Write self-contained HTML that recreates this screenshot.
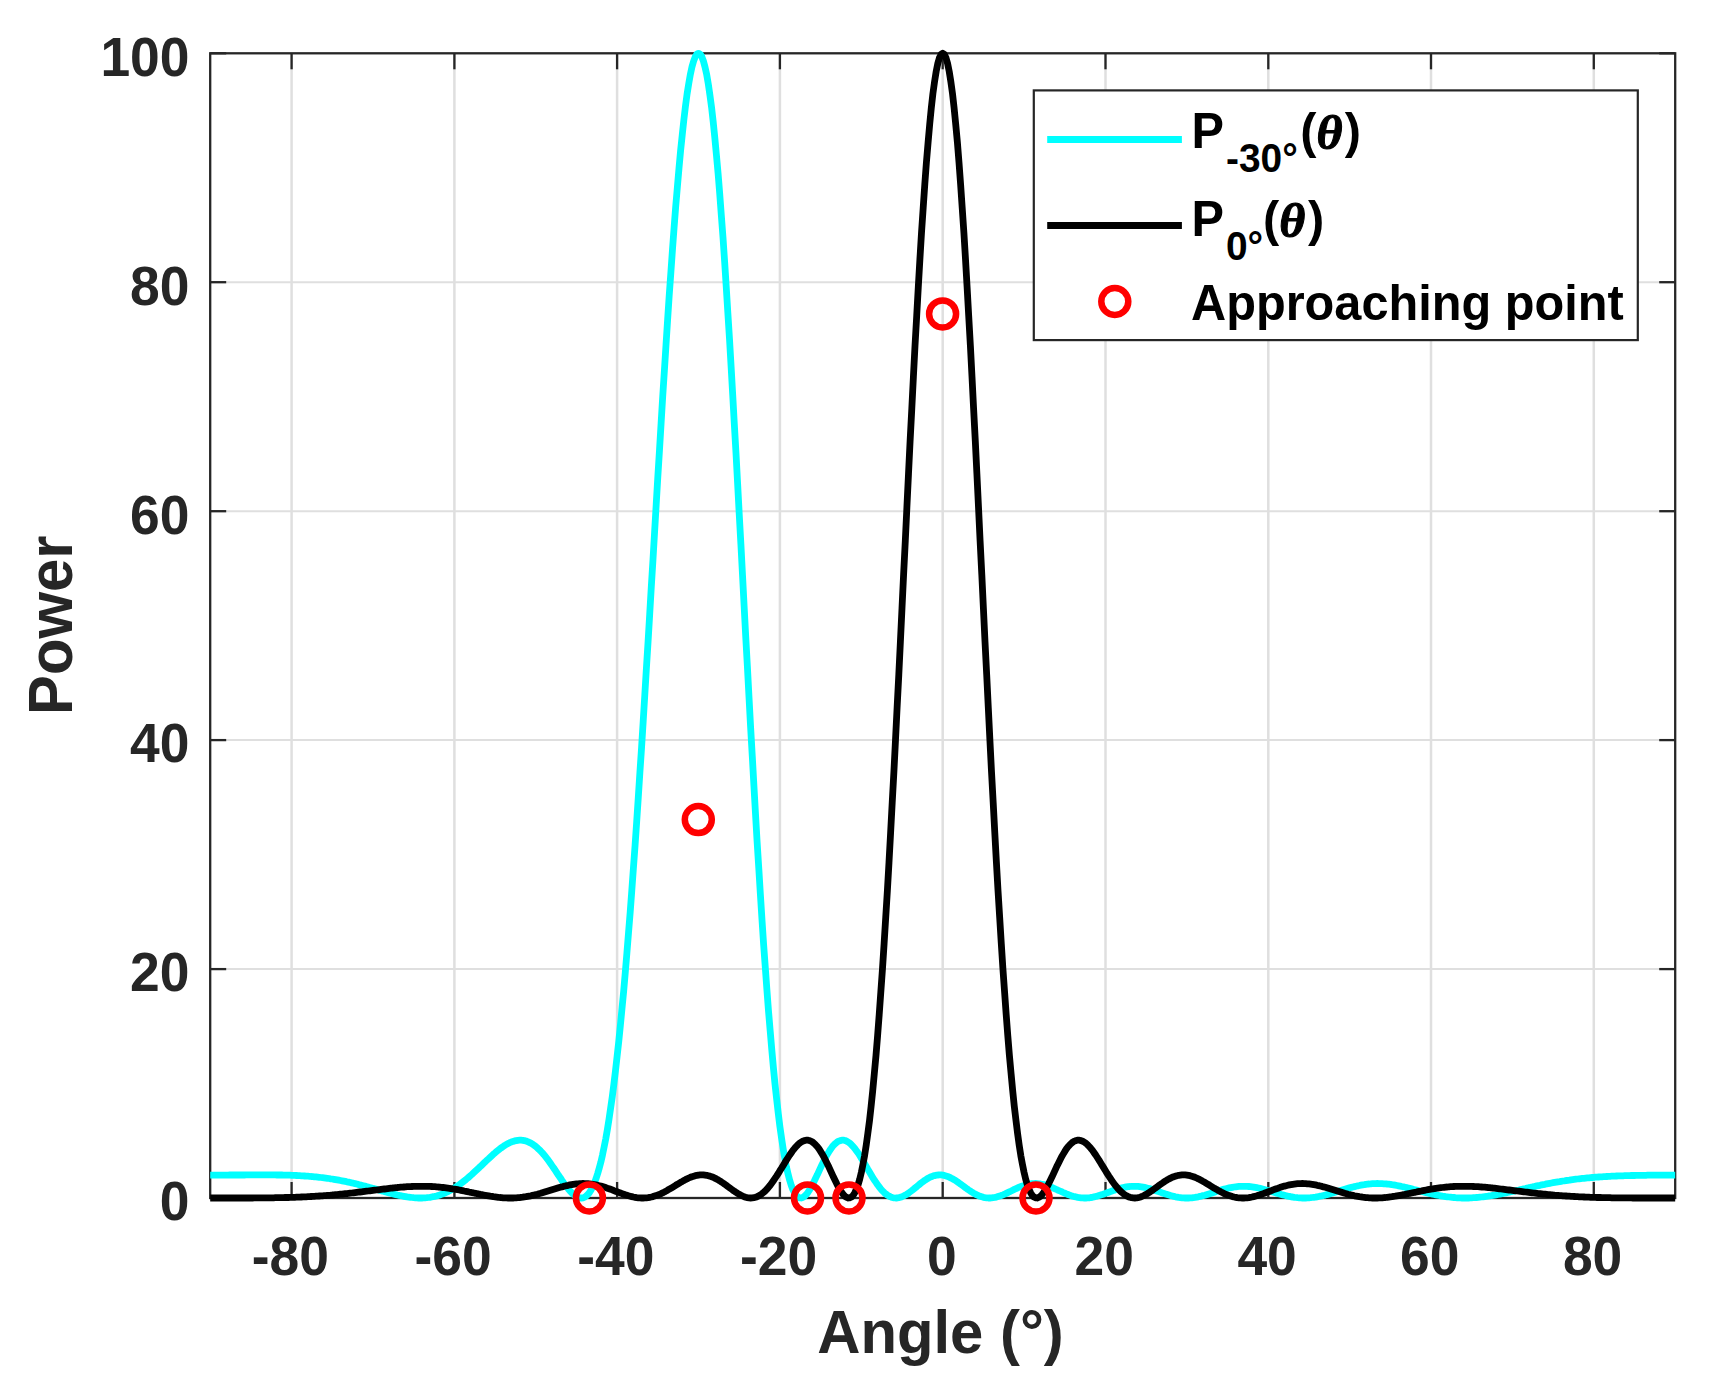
<!DOCTYPE html>
<html><head><meta charset="utf-8"><title>Beam pattern</title>
<style>
html,body{margin:0;padding:0;background:#fff;}
svg{display:block}
text{font-family:"Liberation Sans",sans-serif;font-weight:bold;}
.tk{font-size:53.4px;fill:#262626;}
.lb{font-size:59.8px;fill:#262626;}
.lg{font-size:48.7px;fill:#000;}
.sub{font-size:38.9px;}
.th{font-family:"Liberation Serif",serif;font-style:italic;font-weight:bold;}
</style></head><body>
<svg width="1733" height="1397" viewBox="0 0 1733 1397">
<rect width="1733" height="1397" fill="#fff"/>
<defs><clipPath id="cp"><rect x="209.7" y="40" width="1466.6" height="1168.0"/></clipPath></defs>

<g stroke="#dfdfdf" stroke-width="2" fill="none">
<line x1="291.6" y1="53.3" x2="291.6" y2="1198.0" stroke-width="2.5"/>
<line x1="454.4" y1="53.3" x2="454.4" y2="1198.0" stroke-width="2.5"/>
<line x1="617.1" y1="53.3" x2="617.1" y2="1198.0" stroke-width="2.5"/>
<line x1="779.9" y1="53.3" x2="779.9" y2="1198.0" stroke-width="2.5"/>
<line x1="942.7" y1="53.3" x2="942.7" y2="1198.0" stroke-width="2.5"/>
<line x1="1105.5" y1="53.3" x2="1105.5" y2="1198.0" stroke-width="2.5"/>
<line x1="1268.3" y1="53.3" x2="1268.3" y2="1198.0" stroke-width="2.5"/>
<line x1="1431.0" y1="53.3" x2="1431.0" y2="1198.0" stroke-width="2.5"/>
<line x1="1593.8" y1="53.3" x2="1593.8" y2="1198.0" stroke-width="2.5"/>
<line x1="210.2" y1="969.1" x2="1675.2" y2="969.1"/>
<line x1="210.2" y1="740.1" x2="1675.2" y2="740.1"/>
<line x1="210.2" y1="511.2" x2="1675.2" y2="511.2"/>
<line x1="210.2" y1="282.2" x2="1675.2" y2="282.2"/>
</g>
<g stroke="#262626" stroke-width="2.3" fill="none">
<rect x="210.2" y="53.3" width="1465.0" height="1144.7"/>
<line x1="291.6" y1="1198.0" x2="291.6" y2="1182.0"/><line x1="291.6" y1="53.3" x2="291.6" y2="69.3"/>
<line x1="454.4" y1="1198.0" x2="454.4" y2="1182.0"/><line x1="454.4" y1="53.3" x2="454.4" y2="69.3"/>
<line x1="617.1" y1="1198.0" x2="617.1" y2="1182.0"/><line x1="617.1" y1="53.3" x2="617.1" y2="69.3"/>
<line x1="779.9" y1="1198.0" x2="779.9" y2="1182.0"/><line x1="779.9" y1="53.3" x2="779.9" y2="69.3"/>
<line x1="942.7" y1="1198.0" x2="942.7" y2="1182.0"/><line x1="942.7" y1="53.3" x2="942.7" y2="69.3"/>
<line x1="1105.5" y1="1198.0" x2="1105.5" y2="1182.0"/><line x1="1105.5" y1="53.3" x2="1105.5" y2="69.3"/>
<line x1="1268.3" y1="1198.0" x2="1268.3" y2="1182.0"/><line x1="1268.3" y1="53.3" x2="1268.3" y2="69.3"/>
<line x1="1431.0" y1="1198.0" x2="1431.0" y2="1182.0"/><line x1="1431.0" y1="53.3" x2="1431.0" y2="69.3"/>
<line x1="1593.8" y1="1198.0" x2="1593.8" y2="1182.0"/><line x1="1593.8" y1="53.3" x2="1593.8" y2="69.3"/>
<line x1="210.2" y1="1198.0" x2="226.2" y2="1198.0"/><line x1="1675.2" y1="1198.0" x2="1659.2" y2="1198.0"/>
<line x1="210.2" y1="969.1" x2="226.2" y2="969.1"/><line x1="1675.2" y1="969.1" x2="1659.2" y2="969.1"/>
<line x1="210.2" y1="740.1" x2="226.2" y2="740.1"/><line x1="1675.2" y1="740.1" x2="1659.2" y2="740.1"/>
<line x1="210.2" y1="511.2" x2="226.2" y2="511.2"/><line x1="1675.2" y1="511.2" x2="1659.2" y2="511.2"/>
<line x1="210.2" y1="282.2" x2="226.2" y2="282.2"/><line x1="1675.2" y1="282.2" x2="1659.2" y2="282.2"/>
<line x1="210.2" y1="53.3" x2="226.2" y2="53.3"/><line x1="1675.2" y1="53.3" x2="1659.2" y2="53.3"/>
</g>
<g clip-path="url(#cp)" fill="none" stroke-width="6.8" stroke-linejoin="round">
<path stroke="#00ffff" d="M210.2,1175.1 L211.8,1175.1 L213.5,1175.1 L215.1,1175.1 L216.7,1175.1 L218.3,1175.1 L220.0,1175.1 L221.6,1175.1 L223.2,1175.1 L224.9,1175.1 L226.5,1175.1 L228.1,1175.1 L229.7,1175.0 L231.4,1175.0 L233.0,1175.0 L234.6,1175.0 L236.2,1175.0 L237.9,1175.0 L239.5,1175.0 L241.1,1175.0 L242.8,1175.0 L244.4,1175.0 L246.0,1174.9 L247.6,1174.9 L249.3,1174.9 L250.9,1174.9 L252.5,1174.9 L254.2,1174.9 L255.8,1174.9 L257.4,1174.9 L259.0,1174.9 L260.7,1174.9 L262.3,1174.9 L263.9,1174.9 L265.5,1174.9 L267.2,1174.9 L268.8,1174.9 L270.4,1174.9 L272.1,1174.9 L273.7,1174.9 L275.3,1174.9 L276.9,1175.0 L278.6,1175.0 L280.2,1175.0 L281.8,1175.0 L283.5,1175.1 L285.1,1175.1 L286.7,1175.1 L288.3,1175.2 L290.0,1175.2 L291.6,1175.3 L293.2,1175.4 L294.8,1175.4 L296.5,1175.5 L298.1,1175.6 L299.7,1175.7 L301.4,1175.8 L303.0,1175.9 L304.6,1176.0 L306.2,1176.1 L307.9,1176.2 L309.5,1176.3 L311.1,1176.5 L312.8,1176.6 L314.4,1176.8 L316.0,1176.9 L317.6,1177.1 L319.3,1177.3 L320.9,1177.5 L322.5,1177.7 L324.1,1177.9 L325.8,1178.1 L327.4,1178.3 L329.0,1178.5 L330.7,1178.8 L332.3,1179.0 L333.9,1179.3 L335.5,1179.6 L337.2,1179.9 L338.8,1180.2 L340.4,1180.5 L342.1,1180.8 L343.7,1181.1 L345.3,1181.4 L346.9,1181.8 L348.6,1182.1 L350.2,1182.5 L351.8,1182.9 L353.4,1183.2 L355.1,1183.6 L356.7,1184.0 L358.3,1184.4 L360.0,1184.9 L361.6,1185.3 L363.2,1185.7 L364.8,1186.1 L366.5,1186.6 L368.1,1187.0 L369.7,1187.5 L371.4,1187.9 L373.0,1188.4 L374.6,1188.8 L376.2,1189.3 L377.9,1189.8 L379.5,1190.2 L381.1,1190.7 L382.7,1191.1 L384.4,1191.6 L386.0,1192.0 L387.6,1192.5 L389.3,1192.9 L390.9,1193.3 L392.5,1193.8 L394.1,1194.2 L395.8,1194.6 L397.4,1195.0 L399.0,1195.3 L400.7,1195.7 L402.3,1196.0 L403.9,1196.3 L405.5,1196.6 L407.2,1196.9 L408.8,1197.1 L410.4,1197.3 L412.0,1197.5 L413.7,1197.7 L415.3,1197.8 L416.9,1197.9 L418.6,1198.0 L420.2,1198.0 L421.8,1198.0 L423.4,1197.9 L425.1,1197.8 L426.7,1197.7 L428.3,1197.5 L430.0,1197.3 L431.6,1197.0 L433.2,1196.7 L434.8,1196.4 L436.5,1196.0 L438.1,1195.5 L439.7,1195.0 L441.3,1194.4 L443.0,1193.8 L444.6,1193.1 L446.2,1192.4 L447.9,1191.6 L449.5,1190.8 L451.1,1189.9 L452.7,1189.0 L454.4,1188.0 L456.0,1186.9 L457.6,1185.9 L459.3,1184.7 L460.9,1183.5 L462.5,1182.3 L464.1,1181.0 L465.8,1179.7 L467.4,1178.3 L469.0,1177.0 L470.6,1175.5 L472.3,1174.1 L473.9,1172.6 L475.5,1171.1 L477.2,1169.5 L478.8,1168.0 L480.4,1166.4 L482.0,1164.9 L483.7,1163.3 L485.3,1161.8 L486.9,1160.2 L488.6,1158.7 L490.2,1157.2 L491.8,1155.7 L493.4,1154.2 L495.1,1152.8 L496.7,1151.4 L498.3,1150.1 L499.9,1148.8 L501.6,1147.6 L503.2,1146.5 L504.8,1145.4 L506.5,1144.4 L508.1,1143.5 L509.7,1142.7 L511.3,1142.0 L513.0,1141.4 L514.6,1140.9 L516.2,1140.6 L517.9,1140.3 L519.5,1140.2 L521.1,1140.2 L522.7,1140.3 L524.4,1140.6 L526.0,1141.0 L527.6,1141.6 L529.2,1142.3 L530.9,1143.1 L532.5,1144.1 L534.1,1145.2 L535.8,1146.5 L537.4,1147.9 L539.0,1149.4 L540.6,1151.0 L542.3,1152.8 L543.9,1154.7 L545.5,1156.7 L547.2,1158.8 L548.8,1161.0 L550.4,1163.3 L552.0,1165.6 L553.7,1168.0 L555.3,1170.4 L556.9,1172.9 L558.5,1175.3 L560.2,1177.7 L561.8,1180.2 L563.4,1182.5 L565.1,1184.8 L566.7,1187.0 L568.3,1189.0 L569.9,1190.9 L571.6,1192.7 L573.2,1194.2 L574.8,1195.5 L576.5,1196.6 L578.1,1197.4 L579.7,1197.9 L581.3,1198.0 L583.0,1197.8 L584.6,1197.1 L586.2,1196.0 L587.8,1194.5 L589.5,1192.5 L591.1,1189.9 L592.7,1186.8 L594.4,1183.1 L596.0,1178.8 L597.6,1173.8 L599.2,1168.2 L600.9,1161.9 L602.5,1154.9 L604.1,1147.1 L605.8,1138.6 L607.4,1129.3 L609.0,1119.2 L610.6,1108.3 L612.3,1096.6 L613.9,1084.0 L615.5,1070.6 L617.1,1056.3 L618.8,1041.2 L620.4,1025.2 L622.0,1008.4 L623.7,990.8 L625.3,972.3 L626.9,953.0 L628.5,932.9 L630.2,912.1 L631.8,890.5 L633.4,868.2 L635.1,845.1 L636.7,821.5 L638.3,797.2 L639.9,772.4 L641.6,747.0 L643.2,721.2 L644.8,694.9 L646.4,668.3 L648.1,641.3 L649.7,614.2 L651.3,586.8 L653.0,559.4 L654.6,531.9 L656.2,504.5 L657.8,477.2 L659.5,450.0 L661.1,423.2 L662.7,396.6 L664.4,370.5 L666.0,345.0 L667.6,320.0 L669.2,295.6 L670.9,272.0 L672.5,249.3 L674.1,227.4 L675.7,206.6 L677.4,186.8 L679.0,168.1 L680.6,150.6 L682.3,134.4 L683.9,119.5 L685.5,105.9 L687.1,93.9 L688.8,83.3 L690.4,74.2 L692.0,66.8 L693.7,60.9 L695.3,56.7 L696.9,54.1 L698.5,53.3 L700.2,54.2 L701.8,56.7 L703.4,61.0 L705.0,67.0 L706.7,74.6 L708.3,84.0 L709.9,95.0 L711.6,107.6 L713.2,121.8 L714.8,137.6 L716.4,154.8 L718.1,173.5 L719.7,193.6 L721.3,214.9 L723.0,237.6 L724.6,261.3 L726.2,286.2 L727.8,312.1 L729.5,338.9 L731.1,366.5 L732.7,394.8 L734.3,423.8 L736.0,453.3 L737.6,483.3 L739.2,513.6 L740.9,544.2 L742.5,574.9 L744.1,605.6 L745.7,636.3 L747.4,666.8 L749.0,697.1 L750.6,727.0 L752.3,756.5 L753.9,785.5 L755.5,813.9 L757.1,841.6 L758.8,868.5 L760.4,894.6 L762.0,919.9 L763.6,944.2 L765.3,967.5 L766.9,989.7 L768.5,1010.9 L770.2,1031.0 L771.8,1049.9 L773.4,1067.6 L775.0,1084.2 L776.7,1099.5 L778.3,1113.7 L779.9,1126.7 L781.6,1138.4 L783.2,1149.1 L784.8,1158.5 L786.4,1166.9 L788.1,1174.1 L789.7,1180.3 L791.3,1185.5 L792.9,1189.7 L794.6,1193.0 L796.2,1195.4 L797.8,1197.0 L799.5,1197.8 L801.1,1198.0 L802.7,1197.5 L804.3,1196.4 L806.0,1194.8 L807.6,1192.8 L809.2,1190.4 L810.9,1187.6 L812.5,1184.6 L814.1,1181.4 L815.7,1178.0 L817.4,1174.6 L819.0,1171.1 L820.6,1167.6 L822.2,1164.2 L823.9,1160.9 L825.5,1157.7 L827.1,1154.7 L828.8,1152.0 L830.4,1149.4 L832.0,1147.2 L833.6,1145.2 L835.3,1143.6 L836.9,1142.2 L838.5,1141.2 L840.2,1140.6 L841.8,1140.2 L843.4,1140.2 L845.0,1140.5 L846.7,1141.2 L848.3,1142.1 L849.9,1143.3 L851.5,1144.8 L853.2,1146.6 L854.8,1148.5 L856.4,1150.7 L858.1,1153.0 L859.7,1155.5 L861.3,1158.1 L862.9,1160.8 L864.6,1163.6 L866.2,1166.4 L867.8,1169.2 L869.5,1172.0 L871.1,1174.7 L872.7,1177.4 L874.3,1180.0 L876.0,1182.4 L877.6,1184.8 L879.2,1186.9 L880.8,1189.0 L882.5,1190.8 L884.1,1192.4 L885.7,1193.9 L887.4,1195.1 L889.0,1196.1 L890.6,1196.9 L892.2,1197.5 L893.9,1197.8 L895.5,1198.0 L897.1,1198.0 L898.8,1197.7 L900.4,1197.3 L902.0,1196.7 L903.6,1196.0 L905.3,1195.1 L906.9,1194.2 L908.5,1193.1 L910.1,1191.9 L911.8,1190.6 L913.4,1189.3 L915.0,1188.0 L916.7,1186.7 L918.3,1185.3 L919.9,1184.0 L921.5,1182.7 L923.2,1181.5 L924.8,1180.3 L926.4,1179.3 L928.1,1178.3 L929.7,1177.4 L931.3,1176.7 L932.9,1176.1 L934.6,1175.6 L936.2,1175.2 L937.8,1175.0 L939.4,1174.9 L941.1,1174.9 L942.7,1175.1 L944.3,1175.4 L946.0,1175.9 L947.6,1176.4 L949.2,1177.1 L950.8,1177.9 L952.5,1178.8 L954.1,1179.7 L955.7,1180.7 L957.4,1181.8 L959.0,1183.0 L960.6,1184.1 L962.2,1185.3 L963.9,1186.5 L965.5,1187.7 L967.1,1188.9 L968.7,1190.0 L970.4,1191.1 L972.0,1192.2 L973.6,1193.2 L975.3,1194.1 L976.9,1194.9 L978.5,1195.6 L980.1,1196.3 L981.8,1196.8 L983.4,1197.3 L985.0,1197.6 L986.7,1197.8 L988.3,1198.0 L989.9,1198.0 L991.5,1197.9 L993.2,1197.7 L994.8,1197.5 L996.4,1197.1 L998.0,1196.6 L999.7,1196.1 L1001.3,1195.5 L1002.9,1194.9 L1004.6,1194.2 L1006.2,1193.4 L1007.8,1192.6 L1009.4,1191.8 L1011.1,1191.0 L1012.7,1190.2 L1014.3,1189.4 L1016.0,1188.7 L1017.6,1187.9 L1019.2,1187.2 L1020.8,1186.5 L1022.5,1185.9 L1024.1,1185.4 L1025.7,1184.9 L1027.3,1184.5 L1029.0,1184.1 L1030.6,1183.9 L1032.2,1183.7 L1033.9,1183.6 L1035.5,1183.5 L1037.1,1183.6 L1038.7,1183.8 L1040.4,1184.0 L1042.0,1184.3 L1043.6,1184.6 L1045.3,1185.1 L1046.9,1185.6 L1048.5,1186.1 L1050.1,1186.8 L1051.8,1187.4 L1053.4,1188.1 L1055.0,1188.8 L1056.6,1189.5 L1058.3,1190.3 L1059.9,1191.0 L1061.5,1191.7 L1063.2,1192.5 L1064.8,1193.2 L1066.4,1193.9 L1068.0,1194.5 L1069.7,1195.1 L1071.3,1195.7 L1072.9,1196.2 L1074.6,1196.6 L1076.2,1197.0 L1077.8,1197.4 L1079.4,1197.6 L1081.1,1197.8 L1082.7,1197.9 L1084.3,1198.0 L1085.9,1198.0 L1087.6,1197.9 L1089.2,1197.8 L1090.8,1197.5 L1092.5,1197.3 L1094.1,1196.9 L1095.7,1196.5 L1097.3,1196.1 L1099.0,1195.6 L1100.6,1195.1 L1102.2,1194.6 L1103.9,1194.0 L1105.5,1193.4 L1107.1,1192.8 L1108.7,1192.2 L1110.4,1191.6 L1112.0,1191.0 L1113.6,1190.4 L1115.2,1189.9 L1116.9,1189.3 L1118.5,1188.8 L1120.1,1188.3 L1121.8,1187.9 L1123.4,1187.5 L1125.0,1187.2 L1126.6,1186.9 L1128.3,1186.6 L1129.9,1186.5 L1131.5,1186.3 L1133.2,1186.3 L1134.8,1186.3 L1136.4,1186.3 L1138.0,1186.4 L1139.7,1186.6 L1141.3,1186.8 L1142.9,1187.1 L1144.5,1187.4 L1146.2,1187.8 L1147.8,1188.2 L1149.4,1188.6 L1151.1,1189.1 L1152.7,1189.6 L1154.3,1190.2 L1155.9,1190.7 L1157.6,1191.3 L1159.2,1191.8 L1160.8,1192.4 L1162.5,1193.0 L1164.1,1193.5 L1165.7,1194.1 L1167.3,1194.6 L1169.0,1195.1 L1170.6,1195.6 L1172.2,1196.0 L1173.8,1196.4 L1175.5,1196.8 L1177.1,1197.1 L1178.7,1197.4 L1180.4,1197.6 L1182.0,1197.8 L1183.6,1197.9 L1185.2,1198.0 L1186.9,1198.0 L1188.5,1198.0 L1190.1,1197.9 L1191.8,1197.8 L1193.4,1197.6 L1195.0,1197.4 L1196.6,1197.1 L1198.3,1196.8 L1199.9,1196.4 L1201.5,1196.1 L1203.1,1195.6 L1204.8,1195.2 L1206.4,1194.7 L1208.0,1194.2 L1209.7,1193.7 L1211.3,1193.2 L1212.9,1192.7 L1214.5,1192.2 L1216.2,1191.6 L1217.8,1191.1 L1219.4,1190.6 L1221.1,1190.1 L1222.7,1189.6 L1224.3,1189.1 L1225.9,1188.7 L1227.6,1188.3 L1229.2,1187.9 L1230.8,1187.6 L1232.4,1187.3 L1234.1,1187.0 L1235.7,1186.8 L1237.3,1186.6 L1239.0,1186.4 L1240.6,1186.3 L1242.2,1186.3 L1243.8,1186.3 L1245.5,1186.3 L1247.1,1186.4 L1248.7,1186.5 L1250.4,1186.7 L1252.0,1186.9 L1253.6,1187.1 L1255.2,1187.4 L1256.9,1187.7 L1258.5,1188.0 L1260.1,1188.4 L1261.7,1188.8 L1263.4,1189.2 L1265.0,1189.7 L1266.6,1190.2 L1268.3,1190.6 L1269.9,1191.1 L1271.5,1191.6 L1273.1,1192.1 L1274.8,1192.6 L1276.4,1193.1 L1278.0,1193.5 L1279.7,1194.0 L1281.3,1194.5 L1282.9,1194.9 L1284.5,1195.3 L1286.2,1195.7 L1287.8,1196.1 L1289.4,1196.4 L1291.0,1196.8 L1292.7,1197.0 L1294.3,1197.3 L1295.9,1197.5 L1297.6,1197.7 L1299.2,1197.8 L1300.8,1197.9 L1302.4,1198.0 L1304.1,1198.0 L1305.7,1198.0 L1307.3,1197.9 L1309.0,1197.8 L1310.6,1197.7 L1312.2,1197.5 L1313.8,1197.3 L1315.5,1197.1 L1317.1,1196.8 L1318.7,1196.5 L1320.3,1196.2 L1322.0,1195.9 L1323.6,1195.5 L1325.2,1195.1 L1326.9,1194.6 L1328.5,1194.2 L1330.1,1193.7 L1331.7,1193.3 L1333.4,1192.8 L1335.0,1192.3 L1336.6,1191.8 L1338.3,1191.3 L1339.9,1190.8 L1341.5,1190.3 L1343.1,1189.8 L1344.8,1189.3 L1346.4,1188.8 L1348.0,1188.3 L1349.6,1187.8 L1351.3,1187.4 L1352.9,1187.0 L1354.5,1186.6 L1356.2,1186.2 L1357.8,1185.8 L1359.4,1185.5 L1361.0,1185.1 L1362.7,1184.8 L1364.3,1184.6 L1365.9,1184.3 L1367.6,1184.1 L1369.2,1184.0 L1370.8,1183.8 L1372.4,1183.7 L1374.1,1183.6 L1375.7,1183.6 L1377.3,1183.5 L1378.9,1183.6 L1380.6,1183.6 L1382.2,1183.7 L1383.8,1183.8 L1385.5,1183.9 L1387.1,1184.0 L1388.7,1184.2 L1390.3,1184.4 L1392.0,1184.7 L1393.6,1184.9 L1395.2,1185.2 L1396.9,1185.5 L1398.5,1185.8 L1400.1,1186.1 L1401.7,1186.5 L1403.4,1186.8 L1405.0,1187.2 L1406.6,1187.6 L1408.2,1188.0 L1409.9,1188.4 L1411.5,1188.8 L1413.1,1189.3 L1414.8,1189.7 L1416.4,1190.1 L1418.0,1190.5 L1419.6,1191.0 L1421.3,1191.4 L1422.9,1191.8 L1424.5,1192.2 L1426.2,1192.6 L1427.8,1193.0 L1429.4,1193.4 L1431.0,1193.8 L1432.7,1194.2 L1434.3,1194.5 L1435.9,1194.9 L1437.5,1195.2 L1439.2,1195.5 L1440.8,1195.8 L1442.4,1196.1 L1444.1,1196.3 L1445.7,1196.6 L1447.3,1196.8 L1448.9,1197.0 L1450.6,1197.2 L1452.2,1197.4 L1453.8,1197.5 L1455.5,1197.7 L1457.1,1197.8 L1458.7,1197.9 L1460.3,1197.9 L1462.0,1198.0 L1463.6,1198.0 L1465.2,1198.0 L1466.8,1198.0 L1468.5,1198.0 L1470.1,1197.9 L1471.7,1197.8 L1473.4,1197.7 L1475.0,1197.6 L1476.6,1197.5 L1478.2,1197.4 L1479.9,1197.2 L1481.5,1197.0 L1483.1,1196.8 L1484.8,1196.6 L1486.4,1196.4 L1488.0,1196.2 L1489.6,1195.9 L1491.3,1195.7 L1492.9,1195.4 L1494.5,1195.1 L1496.1,1194.8 L1497.8,1194.5 L1499.4,1194.2 L1501.0,1193.9 L1502.7,1193.5 L1504.3,1193.2 L1505.9,1192.9 L1507.5,1192.5 L1509.2,1192.2 L1510.8,1191.8 L1512.4,1191.4 L1514.1,1191.1 L1515.7,1190.7 L1517.3,1190.3 L1518.9,1190.0 L1520.6,1189.6 L1522.2,1189.2 L1523.8,1188.8 L1525.4,1188.5 L1527.1,1188.1 L1528.7,1187.7 L1530.3,1187.4 L1532.0,1187.0 L1533.6,1186.7 L1535.2,1186.3 L1536.8,1185.9 L1538.5,1185.6 L1540.1,1185.3 L1541.7,1184.9 L1543.4,1184.6 L1545.0,1184.3 L1546.6,1183.9 L1548.2,1183.6 L1549.9,1183.3 L1551.5,1183.0 L1553.1,1182.7 L1554.7,1182.4 L1556.4,1182.1 L1558.0,1181.8 L1559.6,1181.6 L1561.3,1181.3 L1562.9,1181.0 L1564.5,1180.8 L1566.1,1180.5 L1567.8,1180.3 L1569.4,1180.1 L1571.0,1179.8 L1572.7,1179.6 L1574.3,1179.4 L1575.9,1179.2 L1577.5,1179.0 L1579.2,1178.8 L1580.8,1178.6 L1582.4,1178.4 L1584.0,1178.3 L1585.7,1178.1 L1587.3,1177.9 L1588.9,1177.8 L1590.6,1177.6 L1592.2,1177.5 L1593.8,1177.4 L1595.4,1177.2 L1597.1,1177.1 L1598.7,1177.0 L1600.3,1176.9 L1602.0,1176.8 L1603.6,1176.7 L1605.2,1176.6 L1606.8,1176.5 L1608.5,1176.4 L1610.1,1176.3 L1611.7,1176.2 L1613.3,1176.1 L1615.0,1176.1 L1616.6,1176.0 L1618.2,1175.9 L1619.9,1175.9 L1621.5,1175.8 L1623.1,1175.8 L1624.7,1175.7 L1626.4,1175.7 L1628.0,1175.6 L1629.6,1175.6 L1631.3,1175.5 L1632.9,1175.5 L1634.5,1175.5 L1636.1,1175.4 L1637.8,1175.4 L1639.4,1175.4 L1641.0,1175.3 L1642.6,1175.3 L1644.3,1175.3 L1645.9,1175.3 L1647.5,1175.2 L1649.2,1175.2 L1650.8,1175.2 L1652.4,1175.2 L1654.0,1175.2 L1655.7,1175.2 L1657.3,1175.2 L1658.9,1175.2 L1660.6,1175.1 L1662.2,1175.1 L1663.8,1175.1 L1665.4,1175.1 L1667.1,1175.1 L1668.7,1175.1 L1670.3,1175.1 L1671.9,1175.1 L1673.6,1175.1 L1675.2,1175.1"/>
<path stroke="#000000" d="M210.2,1198.0 L211.8,1198.0 L213.5,1198.0 L215.1,1198.0 L216.7,1198.0 L218.3,1198.0 L220.0,1198.0 L221.6,1198.0 L223.2,1198.0 L224.9,1198.0 L226.5,1198.0 L228.1,1198.0 L229.7,1198.0 L231.4,1198.0 L233.0,1198.0 L234.6,1198.0 L236.2,1198.0 L237.9,1198.0 L239.5,1198.0 L241.1,1198.0 L242.8,1198.0 L244.4,1198.0 L246.0,1198.0 L247.6,1198.0 L249.3,1198.0 L250.9,1198.0 L252.5,1198.0 L254.2,1197.9 L255.8,1197.9 L257.4,1197.9 L259.0,1197.9 L260.7,1197.9 L262.3,1197.9 L263.9,1197.9 L265.5,1197.9 L267.2,1197.8 L268.8,1197.8 L270.4,1197.8 L272.1,1197.8 L273.7,1197.8 L275.3,1197.7 L276.9,1197.7 L278.6,1197.7 L280.2,1197.6 L281.8,1197.6 L283.5,1197.6 L285.1,1197.5 L286.7,1197.5 L288.3,1197.5 L290.0,1197.4 L291.6,1197.4 L293.2,1197.3 L294.8,1197.3 L296.5,1197.2 L298.1,1197.1 L299.7,1197.1 L301.4,1197.0 L303.0,1196.9 L304.6,1196.9 L306.2,1196.8 L307.9,1196.7 L309.5,1196.6 L311.1,1196.5 L312.8,1196.4 L314.4,1196.3 L316.0,1196.2 L317.6,1196.1 L319.3,1196.0 L320.9,1195.9 L322.5,1195.8 L324.1,1195.7 L325.8,1195.6 L327.4,1195.4 L329.0,1195.3 L330.7,1195.2 L332.3,1195.0 L333.9,1194.9 L335.5,1194.7 L337.2,1194.6 L338.8,1194.4 L340.4,1194.2 L342.1,1194.1 L343.7,1193.9 L345.3,1193.7 L346.9,1193.6 L348.6,1193.4 L350.2,1193.2 L351.8,1193.0 L353.4,1192.8 L355.1,1192.6 L356.7,1192.4 L358.3,1192.2 L360.0,1192.0 L361.6,1191.8 L363.2,1191.6 L364.8,1191.4 L366.5,1191.2 L368.1,1191.0 L369.7,1190.8 L371.4,1190.6 L373.0,1190.4 L374.6,1190.2 L376.2,1190.0 L377.9,1189.8 L379.5,1189.6 L381.1,1189.4 L382.7,1189.2 L384.4,1189.0 L386.0,1188.8 L387.6,1188.6 L389.3,1188.4 L390.9,1188.2 L392.5,1188.0 L394.1,1187.9 L395.8,1187.7 L397.4,1187.5 L399.0,1187.4 L400.7,1187.2 L402.3,1187.1 L403.9,1187.0 L405.5,1186.9 L407.2,1186.7 L408.8,1186.7 L410.4,1186.6 L412.0,1186.5 L413.7,1186.4 L415.3,1186.4 L416.9,1186.3 L418.6,1186.3 L420.2,1186.3 L421.8,1186.3 L423.4,1186.3 L425.1,1186.3 L426.7,1186.3 L428.3,1186.4 L430.0,1186.4 L431.6,1186.5 L433.2,1186.6 L434.8,1186.7 L436.5,1186.8 L438.1,1187.0 L439.7,1187.1 L441.3,1187.3 L443.0,1187.5 L444.6,1187.7 L446.2,1187.9 L447.9,1188.1 L449.5,1188.3 L451.1,1188.6 L452.7,1188.9 L454.4,1189.1 L456.0,1189.4 L457.6,1189.7 L459.3,1190.0 L460.9,1190.3 L462.5,1190.6 L464.1,1191.0 L465.8,1191.3 L467.4,1191.6 L469.0,1192.0 L470.6,1192.3 L472.3,1192.7 L473.9,1193.0 L475.5,1193.3 L477.2,1193.7 L478.8,1194.0 L480.4,1194.4 L482.0,1194.7 L483.7,1195.0 L485.3,1195.3 L486.9,1195.6 L488.6,1195.9 L490.2,1196.2 L491.8,1196.4 L493.4,1196.7 L495.1,1196.9 L496.7,1197.1 L498.3,1197.3 L499.9,1197.5 L501.6,1197.6 L503.2,1197.8 L504.8,1197.9 L506.5,1197.9 L508.1,1198.0 L509.7,1198.0 L511.3,1198.0 L513.0,1198.0 L514.6,1197.9 L516.2,1197.8 L517.9,1197.7 L519.5,1197.6 L521.1,1197.4 L522.7,1197.2 L524.4,1196.9 L526.0,1196.7 L527.6,1196.4 L529.2,1196.1 L530.9,1195.8 L532.5,1195.4 L534.1,1195.0 L535.8,1194.6 L537.4,1194.2 L539.0,1193.7 L540.6,1193.3 L542.3,1192.8 L543.9,1192.3 L545.5,1191.8 L547.2,1191.3 L548.8,1190.8 L550.4,1190.3 L552.0,1189.8 L553.7,1189.3 L555.3,1188.8 L556.9,1188.3 L558.5,1187.8 L560.2,1187.3 L561.8,1186.9 L563.4,1186.4 L565.1,1186.0 L566.7,1185.6 L568.3,1185.3 L569.9,1184.9 L571.6,1184.6 L573.2,1184.3 L574.8,1184.1 L576.5,1183.9 L578.1,1183.8 L579.7,1183.6 L581.3,1183.6 L583.0,1183.5 L584.6,1183.6 L586.2,1183.6 L587.8,1183.7 L589.5,1183.9 L591.1,1184.1 L592.7,1184.3 L594.4,1184.6 L596.0,1184.9 L597.6,1185.3 L599.2,1185.7 L600.9,1186.1 L602.5,1186.6 L604.1,1187.1 L605.8,1187.6 L607.4,1188.2 L609.0,1188.7 L610.6,1189.3 L612.3,1189.9 L613.9,1190.6 L615.5,1191.2 L617.1,1191.8 L618.8,1192.4 L620.4,1193.0 L622.0,1193.6 L623.7,1194.2 L625.3,1194.8 L626.9,1195.3 L628.5,1195.8 L630.2,1196.2 L631.8,1196.6 L633.4,1197.0 L635.1,1197.3 L636.7,1197.6 L638.3,1197.8 L639.9,1197.9 L641.6,1198.0 L643.2,1198.0 L644.8,1197.9 L646.4,1197.8 L648.1,1197.6 L649.7,1197.3 L651.3,1197.0 L653.0,1196.6 L654.6,1196.1 L656.2,1195.6 L657.8,1195.0 L659.5,1194.3 L661.1,1193.6 L662.7,1192.8 L664.4,1192.0 L666.0,1191.1 L667.6,1190.2 L669.2,1189.2 L670.9,1188.3 L672.5,1187.3 L674.1,1186.3 L675.7,1185.3 L677.4,1184.3 L679.0,1183.3 L680.6,1182.3 L682.3,1181.4 L683.9,1180.5 L685.5,1179.6 L687.1,1178.8 L688.8,1178.0 L690.4,1177.3 L692.0,1176.7 L693.7,1176.2 L695.3,1175.7 L696.9,1175.4 L698.5,1175.1 L700.2,1174.9 L701.8,1174.9 L703.4,1174.9 L705.0,1175.1 L706.7,1175.3 L708.3,1175.7 L709.9,1176.1 L711.6,1176.7 L713.2,1177.3 L714.8,1178.1 L716.4,1178.9 L718.1,1179.8 L719.7,1180.8 L721.3,1181.9 L723.0,1183.0 L724.6,1184.1 L726.2,1185.3 L727.8,1186.5 L729.5,1187.7 L731.1,1188.9 L732.7,1190.1 L734.3,1191.2 L736.0,1192.3 L737.6,1193.4 L739.2,1194.4 L740.9,1195.2 L742.5,1196.0 L744.1,1196.7 L745.7,1197.2 L747.4,1197.6 L749.0,1197.9 L750.6,1198.0 L752.3,1197.9 L753.9,1197.7 L755.5,1197.3 L757.1,1196.7 L758.8,1195.9 L760.4,1194.9 L762.0,1193.7 L763.6,1192.4 L765.3,1190.9 L766.9,1189.2 L768.5,1187.3 L770.2,1185.3 L771.8,1183.1 L773.4,1180.8 L775.0,1178.4 L776.7,1175.9 L778.3,1173.4 L779.9,1170.7 L781.6,1168.1 L783.2,1165.4 L784.8,1162.7 L786.4,1160.1 L788.1,1157.5 L789.7,1155.0 L791.3,1152.7 L792.9,1150.4 L794.6,1148.3 L796.2,1146.5 L797.8,1144.8 L799.5,1143.3 L801.1,1142.1 L802.7,1141.2 L804.3,1140.6 L806.0,1140.2 L807.6,1140.2 L809.2,1140.5 L810.9,1141.1 L812.5,1142.0 L814.1,1143.3 L815.7,1144.9 L817.4,1146.8 L819.0,1148.9 L820.6,1151.4 L822.2,1154.1 L823.9,1157.0 L825.5,1160.2 L827.1,1163.4 L828.8,1166.8 L830.4,1170.3 L832.0,1173.8 L833.6,1177.3 L835.3,1180.8 L836.9,1184.1 L838.5,1187.1 L840.2,1190.0 L841.8,1192.5 L843.4,1194.6 L845.0,1196.3 L846.7,1197.4 L848.3,1198.0 L849.9,1197.8 L851.5,1197.0 L853.2,1195.3 L854.8,1192.7 L856.4,1189.2 L858.1,1184.7 L859.7,1179.2 L861.3,1172.5 L862.9,1164.6 L864.6,1155.6 L866.2,1145.2 L867.8,1133.6 L869.5,1120.7 L871.1,1106.4 L872.7,1090.8 L874.3,1073.8 L876.0,1055.4 L877.6,1035.7 L879.2,1014.7 L880.8,992.3 L882.5,968.6 L884.1,943.7 L885.7,917.7 L887.4,890.4 L889.0,862.2 L890.6,832.9 L892.2,802.7 L893.9,771.7 L895.5,740.0 L897.1,707.7 L898.8,674.8 L900.4,641.6 L902.0,608.1 L903.6,574.5 L905.3,540.8 L906.9,507.2 L908.5,473.9 L910.1,441.0 L911.8,408.6 L913.4,376.9 L915.0,345.9 L916.7,315.9 L918.3,287.0 L919.9,259.2 L921.5,232.8 L923.2,207.7 L924.8,184.3 L926.4,162.4 L928.1,142.4 L929.7,124.2 L931.3,107.9 L932.9,93.6 L934.6,81.4 L936.2,71.4 L937.8,63.5 L939.4,57.8 L941.1,54.4 L942.7,53.3 L944.3,54.4 L946.0,57.8 L947.6,63.5 L949.2,71.4 L950.8,81.4 L952.5,93.6 L954.1,107.9 L955.7,124.2 L957.4,142.4 L959.0,162.4 L960.6,184.3 L962.2,207.7 L963.9,232.8 L965.5,259.2 L967.1,287.0 L968.7,315.9 L970.4,345.9 L972.0,376.9 L973.6,408.6 L975.3,441.0 L976.9,473.9 L978.5,507.2 L980.1,540.8 L981.8,574.5 L983.4,608.1 L985.0,641.6 L986.7,674.8 L988.3,707.7 L989.9,740.0 L991.5,771.7 L993.2,802.7 L994.8,832.9 L996.4,862.2 L998.0,890.4 L999.7,917.7 L1001.3,943.7 L1002.9,968.6 L1004.6,992.3 L1006.2,1014.7 L1007.8,1035.7 L1009.4,1055.4 L1011.1,1073.8 L1012.7,1090.8 L1014.3,1106.4 L1016.0,1120.7 L1017.6,1133.6 L1019.2,1145.2 L1020.8,1155.6 L1022.5,1164.6 L1024.1,1172.5 L1025.7,1179.2 L1027.3,1184.7 L1029.0,1189.2 L1030.6,1192.7 L1032.2,1195.3 L1033.9,1197.0 L1035.5,1197.8 L1037.1,1198.0 L1038.7,1197.4 L1040.4,1196.3 L1042.0,1194.6 L1043.6,1192.5 L1045.3,1190.0 L1046.9,1187.1 L1048.5,1184.1 L1050.1,1180.8 L1051.8,1177.3 L1053.4,1173.8 L1055.0,1170.3 L1056.6,1166.8 L1058.3,1163.4 L1059.9,1160.2 L1061.5,1157.0 L1063.2,1154.1 L1064.8,1151.4 L1066.4,1148.9 L1068.0,1146.8 L1069.7,1144.9 L1071.3,1143.3 L1072.9,1142.0 L1074.6,1141.1 L1076.2,1140.5 L1077.8,1140.2 L1079.4,1140.2 L1081.1,1140.6 L1082.7,1141.2 L1084.3,1142.1 L1085.9,1143.3 L1087.6,1144.8 L1089.2,1146.5 L1090.8,1148.3 L1092.5,1150.4 L1094.1,1152.7 L1095.7,1155.0 L1097.3,1157.5 L1099.0,1160.1 L1100.6,1162.7 L1102.2,1165.4 L1103.9,1168.1 L1105.5,1170.7 L1107.1,1173.4 L1108.7,1175.9 L1110.4,1178.4 L1112.0,1180.8 L1113.6,1183.1 L1115.2,1185.3 L1116.9,1187.3 L1118.5,1189.2 L1120.1,1190.9 L1121.8,1192.4 L1123.4,1193.7 L1125.0,1194.9 L1126.6,1195.9 L1128.3,1196.7 L1129.9,1197.3 L1131.5,1197.7 L1133.2,1197.9 L1134.8,1198.0 L1136.4,1197.9 L1138.0,1197.6 L1139.7,1197.2 L1141.3,1196.7 L1142.9,1196.0 L1144.5,1195.2 L1146.2,1194.4 L1147.8,1193.4 L1149.4,1192.3 L1151.1,1191.2 L1152.7,1190.1 L1154.3,1188.9 L1155.9,1187.7 L1157.6,1186.5 L1159.2,1185.3 L1160.8,1184.1 L1162.5,1183.0 L1164.1,1181.9 L1165.7,1180.8 L1167.3,1179.8 L1169.0,1178.9 L1170.6,1178.1 L1172.2,1177.3 L1173.8,1176.7 L1175.5,1176.1 L1177.1,1175.7 L1178.7,1175.3 L1180.4,1175.1 L1182.0,1174.9 L1183.6,1174.9 L1185.2,1174.9 L1186.9,1175.1 L1188.5,1175.4 L1190.1,1175.7 L1191.8,1176.2 L1193.4,1176.7 L1195.0,1177.3 L1196.6,1178.0 L1198.3,1178.8 L1199.9,1179.6 L1201.5,1180.5 L1203.1,1181.4 L1204.8,1182.3 L1206.4,1183.3 L1208.0,1184.3 L1209.7,1185.3 L1211.3,1186.3 L1212.9,1187.3 L1214.5,1188.3 L1216.2,1189.2 L1217.8,1190.2 L1219.4,1191.1 L1221.1,1192.0 L1222.7,1192.8 L1224.3,1193.6 L1225.9,1194.3 L1227.6,1195.0 L1229.2,1195.6 L1230.8,1196.1 L1232.4,1196.6 L1234.1,1197.0 L1235.7,1197.3 L1237.3,1197.6 L1239.0,1197.8 L1240.6,1197.9 L1242.2,1198.0 L1243.8,1198.0 L1245.5,1197.9 L1247.1,1197.8 L1248.7,1197.6 L1250.4,1197.3 L1252.0,1197.0 L1253.6,1196.6 L1255.2,1196.2 L1256.9,1195.8 L1258.5,1195.3 L1260.1,1194.8 L1261.7,1194.2 L1263.4,1193.6 L1265.0,1193.0 L1266.6,1192.4 L1268.3,1191.8 L1269.9,1191.2 L1271.5,1190.6 L1273.1,1189.9 L1274.8,1189.3 L1276.4,1188.7 L1278.0,1188.2 L1279.7,1187.6 L1281.3,1187.1 L1282.9,1186.6 L1284.5,1186.1 L1286.2,1185.7 L1287.8,1185.3 L1289.4,1184.9 L1291.0,1184.6 L1292.7,1184.3 L1294.3,1184.1 L1295.9,1183.9 L1297.6,1183.7 L1299.2,1183.6 L1300.8,1183.6 L1302.4,1183.5 L1304.1,1183.6 L1305.7,1183.6 L1307.3,1183.8 L1309.0,1183.9 L1310.6,1184.1 L1312.2,1184.3 L1313.8,1184.6 L1315.5,1184.9 L1317.1,1185.3 L1318.7,1185.6 L1320.3,1186.0 L1322.0,1186.4 L1323.6,1186.9 L1325.2,1187.3 L1326.9,1187.8 L1328.5,1188.3 L1330.1,1188.8 L1331.7,1189.3 L1333.4,1189.8 L1335.0,1190.3 L1336.6,1190.8 L1338.3,1191.3 L1339.9,1191.8 L1341.5,1192.3 L1343.1,1192.8 L1344.8,1193.3 L1346.4,1193.7 L1348.0,1194.2 L1349.6,1194.6 L1351.3,1195.0 L1352.9,1195.4 L1354.5,1195.8 L1356.2,1196.1 L1357.8,1196.4 L1359.4,1196.7 L1361.0,1196.9 L1362.7,1197.2 L1364.3,1197.4 L1365.9,1197.6 L1367.6,1197.7 L1369.2,1197.8 L1370.8,1197.9 L1372.4,1198.0 L1374.1,1198.0 L1375.7,1198.0 L1377.3,1198.0 L1378.9,1197.9 L1380.6,1197.9 L1382.2,1197.8 L1383.8,1197.6 L1385.5,1197.5 L1387.1,1197.3 L1388.7,1197.1 L1390.3,1196.9 L1392.0,1196.7 L1393.6,1196.4 L1395.2,1196.2 L1396.9,1195.9 L1398.5,1195.6 L1400.1,1195.3 L1401.7,1195.0 L1403.4,1194.7 L1405.0,1194.4 L1406.6,1194.0 L1408.2,1193.7 L1409.9,1193.3 L1411.5,1193.0 L1413.1,1192.7 L1414.8,1192.3 L1416.4,1192.0 L1418.0,1191.6 L1419.6,1191.3 L1421.3,1191.0 L1422.9,1190.6 L1424.5,1190.3 L1426.2,1190.0 L1427.8,1189.7 L1429.4,1189.4 L1431.0,1189.1 L1432.7,1188.9 L1434.3,1188.6 L1435.9,1188.3 L1437.5,1188.1 L1439.2,1187.9 L1440.8,1187.7 L1442.4,1187.5 L1444.1,1187.3 L1445.7,1187.1 L1447.3,1187.0 L1448.9,1186.8 L1450.6,1186.7 L1452.2,1186.6 L1453.8,1186.5 L1455.5,1186.4 L1457.1,1186.4 L1458.7,1186.3 L1460.3,1186.3 L1462.0,1186.3 L1463.6,1186.3 L1465.2,1186.3 L1466.8,1186.3 L1468.5,1186.3 L1470.1,1186.4 L1471.7,1186.4 L1473.4,1186.5 L1475.0,1186.6 L1476.6,1186.7 L1478.2,1186.7 L1479.9,1186.9 L1481.5,1187.0 L1483.1,1187.1 L1484.8,1187.2 L1486.4,1187.4 L1488.0,1187.5 L1489.6,1187.7 L1491.3,1187.9 L1492.9,1188.0 L1494.5,1188.2 L1496.1,1188.4 L1497.8,1188.6 L1499.4,1188.8 L1501.0,1189.0 L1502.7,1189.2 L1504.3,1189.4 L1505.9,1189.6 L1507.5,1189.8 L1509.2,1190.0 L1510.8,1190.2 L1512.4,1190.4 L1514.1,1190.6 L1515.7,1190.8 L1517.3,1191.0 L1518.9,1191.2 L1520.6,1191.4 L1522.2,1191.6 L1523.8,1191.8 L1525.4,1192.0 L1527.1,1192.2 L1528.7,1192.4 L1530.3,1192.6 L1532.0,1192.8 L1533.6,1193.0 L1535.2,1193.2 L1536.8,1193.4 L1538.5,1193.6 L1540.1,1193.7 L1541.7,1193.9 L1543.4,1194.1 L1545.0,1194.2 L1546.6,1194.4 L1548.2,1194.6 L1549.9,1194.7 L1551.5,1194.9 L1553.1,1195.0 L1554.7,1195.2 L1556.4,1195.3 L1558.0,1195.4 L1559.6,1195.6 L1561.3,1195.7 L1562.9,1195.8 L1564.5,1195.9 L1566.1,1196.0 L1567.8,1196.1 L1569.4,1196.2 L1571.0,1196.3 L1572.7,1196.4 L1574.3,1196.5 L1575.9,1196.6 L1577.5,1196.7 L1579.2,1196.8 L1580.8,1196.9 L1582.4,1196.9 L1584.0,1197.0 L1585.7,1197.1 L1587.3,1197.1 L1588.9,1197.2 L1590.6,1197.3 L1592.2,1197.3 L1593.8,1197.4 L1595.4,1197.4 L1597.1,1197.5 L1598.7,1197.5 L1600.3,1197.5 L1602.0,1197.6 L1603.6,1197.6 L1605.2,1197.6 L1606.8,1197.7 L1608.5,1197.7 L1610.1,1197.7 L1611.7,1197.8 L1613.3,1197.8 L1615.0,1197.8 L1616.6,1197.8 L1618.2,1197.8 L1619.9,1197.9 L1621.5,1197.9 L1623.1,1197.9 L1624.7,1197.9 L1626.4,1197.9 L1628.0,1197.9 L1629.6,1197.9 L1631.3,1197.9 L1632.9,1198.0 L1634.5,1198.0 L1636.1,1198.0 L1637.8,1198.0 L1639.4,1198.0 L1641.0,1198.0 L1642.6,1198.0 L1644.3,1198.0 L1645.9,1198.0 L1647.5,1198.0 L1649.2,1198.0 L1650.8,1198.0 L1652.4,1198.0 L1654.0,1198.0 L1655.7,1198.0 L1657.3,1198.0 L1658.9,1198.0 L1660.6,1198.0 L1662.2,1198.0 L1663.8,1198.0 L1665.4,1198.0 L1667.1,1198.0 L1668.7,1198.0 L1670.3,1198.0 L1671.9,1198.0 L1673.6,1198.0 L1675.2,1198.0"/>
</g>
<g fill="none" stroke="#ff0000" stroke-width="6.5">
<circle cx="589.4" cy="1197.9" r="13.5"/>
<circle cx="807.5" cy="1197.9" r="13.5"/>
<circle cx="849.0" cy="1197.9" r="13.5"/>
<circle cx="1036" cy="1197.9" r="13.5"/>
<circle cx="698.3" cy="819.6" r="13.5"/>
<circle cx="942.6" cy="313.9" r="13.5"/>
</g>
<text class="tk" transform="translate(290.3,1275.3) scale(1,1.045)" text-anchor="middle">-80</text>
<text class="tk" transform="translate(453.1,1275.3) scale(1,1.045)" text-anchor="middle">-60</text>
<text class="tk" transform="translate(615.8,1275.3) scale(1,1.045)" text-anchor="middle">-40</text>
<text class="tk" transform="translate(778.6,1275.3) scale(1,1.045)" text-anchor="middle">-20</text>
<text class="tk" transform="translate(941.8,1275.3) scale(1,1.045)" text-anchor="middle">0</text>
<text class="tk" transform="translate(1104.3,1275.3) scale(1,1.045)" text-anchor="middle">20</text>
<text class="tk" transform="translate(1267.1,1275.3) scale(1,1.045)" text-anchor="middle">40</text>
<text class="tk" transform="translate(1429.8,1275.3) scale(1,1.045)" text-anchor="middle">60</text>
<text class="tk" transform="translate(1592.6,1275.3) scale(1,1.045)" text-anchor="middle">80</text>
<text class="tk" transform="translate(189.5,1220.3) scale(1,1.045)" text-anchor="end">0</text>
<text class="tk" transform="translate(189.5,991.4) scale(1,1.045)" text-anchor="end">20</text>
<text class="tk" transform="translate(189.5,762.4) scale(1,1.045)" text-anchor="end">40</text>
<text class="tk" transform="translate(189.5,533.5) scale(1,1.045)" text-anchor="end">60</text>
<text class="tk" transform="translate(189.5,304.5) scale(1,1.045)" text-anchor="end">80</text>
<text class="tk" transform="translate(189.5,75.6) scale(1,1.045)" text-anchor="end">100</text>
<text class="lb" transform="translate(940.5,1353.0) scale(1,1.03)" text-anchor="middle">Angle (°)</text>
<text class="lb" transform="translate(72.1,625.2) rotate(-90) scale(1,1.05)" text-anchor="middle">Power</text>
<rect x="1033.8" y="90.4" width="604.0" height="249.70000000000002" fill="#fff" stroke="#262626" stroke-width="2.2"/>
<line x1="1047.2" y1="139.4" x2="1181.9" y2="139.4" stroke="#00ffff" stroke-width="7"/>
<line x1="1047.2" y1="225.4" x2="1181.9" y2="225.4" stroke="#000" stroke-width="7"/>
<circle cx="1114.8" cy="301.5" r="13.5" fill="none" stroke="#ff0000" stroke-width="6.5"/>
<text class="lg" transform="translate(1191.6,148.0) scale(1,1.03)" text-anchor="start">P</text><text class="lg sub" transform="translate(1226.0,171.6) scale(1,1.03)" text-anchor="start">-30°</text><text class="lg" transform="translate(1300.3,148.0) scale(1,1.03)" text-anchor="start">(</text><text class="lg th" transform="translate(1316.5,148.9) scale(1.04,1)" stroke="#000" stroke-width="1" style="font-size:48.2px">θ</text><text class="lg" transform="translate(1344.8,148.0) scale(1,1.03)" text-anchor="start">)</text>
<text class="lg" transform="translate(1191.6,236.0) scale(1,1.03)" text-anchor="start">P</text><text class="lg sub" transform="translate(1226.0,259.6) scale(1,1.03)" text-anchor="start">0°</text><text class="lg" transform="translate(1263.0,236.0) scale(1,1.03)" text-anchor="start">(</text><text class="lg th" transform="translate(1279.2,236.9) scale(1.04,1)" stroke="#000" stroke-width="1" style="font-size:48.2px">θ</text><text class="lg" transform="translate(1308.0,236.0) scale(1,1.03)" text-anchor="start">)</text>
<text class="lg" transform="translate(1191.0,319.9) scale(1,1.03)" text-anchor="start">Approaching point</text>
</svg></body></html>
